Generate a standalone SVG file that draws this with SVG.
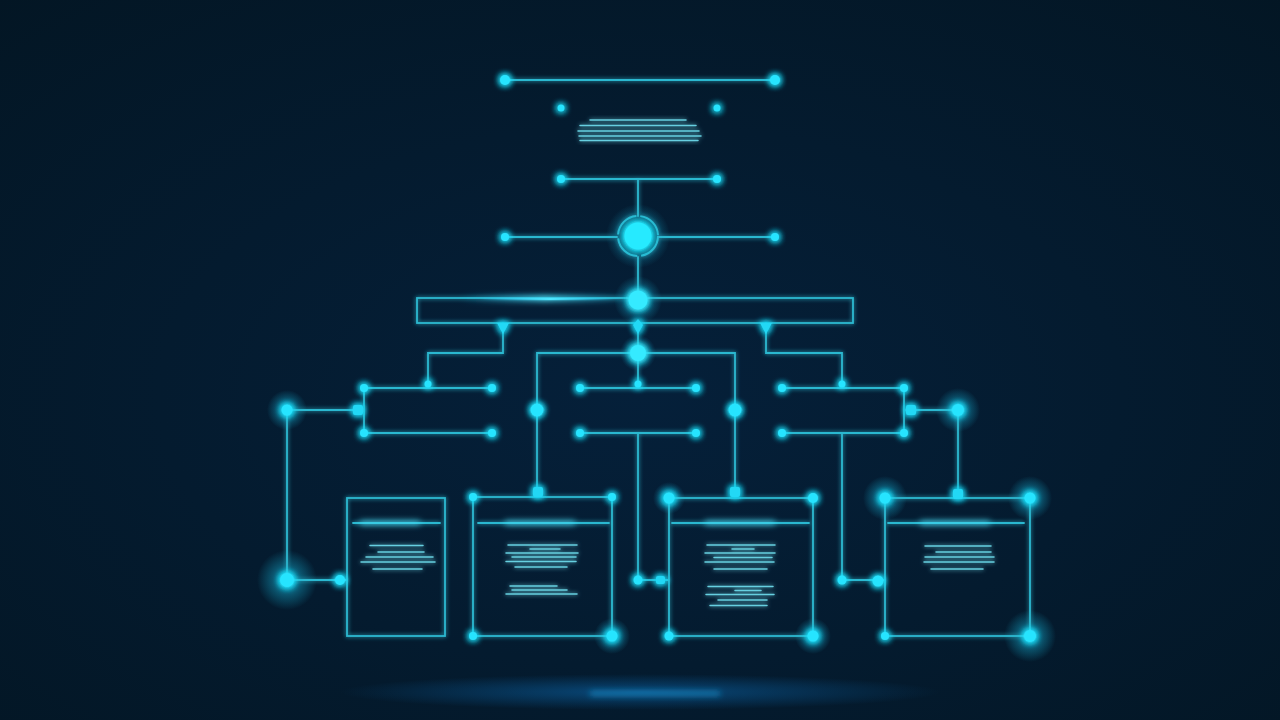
<svg xmlns="http://www.w3.org/2000/svg" width="1280" height="720" viewBox="0 0 1280 720">
<defs>
  <radialGradient id="bg" cx="50%" cy="55%" r="75%">
    <stop offset="0" stop-color="#05203a"/>
    <stop offset="1" stop-color="#031624"/>
  </radialGradient>
  <radialGradient id="floor" cx="50%" cy="50%" r="50%">
    <stop offset="0" stop-color="#0a5c9a" stop-opacity="0.7"/>
    <stop offset="1" stop-color="#0a5c9a" stop-opacity="0"/>
  </radialGradient>
  <radialGradient id="halo" cx="50%" cy="50%" r="50%">
    <stop offset="0" stop-color="#1ad8ff" stop-opacity="0.6"/>
    <stop offset="1" stop-color="#1ad8ff" stop-opacity="0"/>
  </radialGradient>
  <linearGradient id="streak" x1="0" x2="1">
    <stop offset="0" stop-color="#2ad0ff" stop-opacity="0"/>
    <stop offset="0.5" stop-color="#4fe6ff" stop-opacity="1"/>
    <stop offset="1" stop-color="#2ad0ff" stop-opacity="0"/>
  </linearGradient>
  <filter id="glow" x="-20%" y="-20%" width="140%" height="140%">
    <feGaussianBlur stdDeviation="2" result="b"/>
    <feMerge><feMergeNode in="b"/><feMergeNode in="SourceGraphic"/></feMerge>
  </filter>
  <filter id="dglow" x="-200%" y="-200%" width="500%" height="500%">
    <feGaussianBlur stdDeviation="3.5" result="b"/>
    <feMerge><feMergeNode in="b"/><feMergeNode in="b"/><feMergeNode in="b"/><feMergeNode in="SourceGraphic"/></feMerge>
  </filter>
  <filter id="soft" x="-50%" y="-300%" width="200%" height="700%">
    <feGaussianBlur stdDeviation="3"/>
  </filter>
</defs>
<style>
  .ln{fill:none;stroke:#2cb8d0;stroke-width:1.8;stroke-linecap:round}
  .tl{fill:none;stroke:#66cfe0;stroke-width:1.5;stroke-linecap:round}
  .dot{fill:#28e4ff}
  .mk{fill:#22d8f5}
</style>
<rect width="1280" height="720" fill="url(#bg)"/>
<ellipse cx="640" cy="692" rx="300" ry="18" fill="url(#floor)"/>
<rect x="590" y="692" width="130" height="3" fill="#1fa0e0" filter="url(#soft)"/>

<!-- halos -->
<g>
  <circle cx="287" cy="580" r="30" fill="url(#halo)"/>
  <circle cx="287" cy="410" r="20" fill="url(#halo)"/>
  <circle cx="958" cy="410" r="22" fill="url(#halo)"/>
  <circle cx="1030" cy="636" r="26" fill="url(#halo)"/>
  <circle cx="1030" cy="498" r="22" fill="url(#halo)"/>
  <circle cx="885" cy="498" r="22" fill="url(#halo)"/>
  <circle cx="638" cy="300" r="24" fill="url(#halo)"/>
  <circle cx="638" cy="236" r="32" fill="url(#halo)"/>
  <circle cx="638" cy="353" r="18" fill="url(#halo)"/>
  <circle cx="813" cy="636" r="18" fill="url(#halo)"/>
  <circle cx="612" cy="636" r="18" fill="url(#halo)"/>
  <circle cx="669" cy="498" r="16" fill="url(#halo)"/>
</g>

<g id="connectors" filter="url(#glow)">
  <line class="ln" x1="505" y1="80" x2="775" y2="80" stroke-width="2.4"/>
  <line class="ln" x1="561" y1="179" x2="717" y2="179"/>
  <line class="ln" x1="638" y1="179" x2="638" y2="216"/>
  <line class="ln" x1="505" y1="237" x2="617" y2="237"/>
  <line class="ln" x1="659" y1="237" x2="775" y2="237"/>
  <line class="ln" x1="638" y1="257" x2="638" y2="298"/>
  <rect class="ln" x="417" y="298" width="436" height="25"/>
  <polyline class="ln" points="503,323 503,353 428,353 428,388"/>
  <line class="ln" x1="638" y1="323" x2="638" y2="388"/>
  <polyline class="ln" points="537,497 537,353 735,353 735,497"/>
  <polyline class="ln" points="766,323 766,353 842,353 842,388"/>
  <polyline class="ln" points="492,388 364,388 364,433 492,433"/>
  <line class="ln" x1="580" y1="388" x2="696" y2="388"/>
  <line class="ln" x1="580" y1="433" x2="696" y2="433"/>
  <polyline class="ln" points="782,388 904,388 904,433 782,433"/>
  <polyline class="ln" points="358,410 287,410 287,580 347,580"/>
  <polyline class="ln" points="638,433 638,580 669,580"/>
  <polyline class="ln" points="842,433 842,580 885,580"/>
  <polyline class="ln" points="906,410 958,410 958,497"/>
</g>

<!-- glow streak on bus -->
<rect x="460" y="296" width="170" height="5" fill="url(#streak)" filter="url(#soft)"/>
<rect x="480" y="298" width="140" height="2.2" fill="url(#streak)"/>

<g id="title" filter="url(#glow)">
  <line class="tl" x1="590" y1="120" x2="686" y2="120"/>
  <line class="tl" x1="580" y1="125.5" x2="696" y2="125.5"/>
  <line class="tl" x1="578" y1="131" x2="699" y2="131"/>
  <line class="tl" x1="579" y1="136" x2="701" y2="136"/>
  <line class="tl" x1="580" y1="140.5" x2="698" y2="140.5"/>
</g>

<g id="hub">
  <circle cx="638" cy="236" r="20" fill="none" stroke="#2cb8d0" stroke-width="2" stroke-dasharray="28 4" filter="url(#glow)"/>
  <circle cx="638" cy="236" r="13.5" fill="#26eaff" filter="url(#dglow)"/>
  <circle cx="638" cy="300" r="9.5" fill="#34eaff" filter="url(#dglow)"/>
  <circle cx="638" cy="353" r="8" fill="#34eaff" filter="url(#dglow)"/>
</g>

<g id="box1" filter="url(#glow)">
  <rect class="ln" x="347" y="498" width="98" height="138"/>
  <line class="ln" x1="353" y1="523" x2="440" y2="523"/>
  <line class="tl" x1="370" y1="545.5" x2="423" y2="545.5"/>
  <line class="tl" x1="378" y1="552" x2="424" y2="552"/>
  <line class="tl" x1="366" y1="557" x2="433" y2="557"/>
  <line class="tl" x1="361" y1="562" x2="435" y2="562"/>
  <line class="tl" x1="373" y1="569" x2="422" y2="569"/>
</g>
<g id="box2" filter="url(#glow)">
  <rect class="ln" x="473" y="497" width="139" height="139"/>
  <line class="ln" x1="478" y1="523" x2="609" y2="523"/>
  <line class="tl" x1="508" y1="545" x2="577" y2="545"/>
  <line class="tl" x1="530" y1="549" x2="560" y2="549"/>
  <line class="tl" x1="506" y1="553" x2="578" y2="553"/>
  <line class="tl" x1="512" y1="557" x2="576" y2="557"/>
  <line class="tl" x1="506" y1="561.5" x2="576" y2="561.5"/>
  <line class="tl" x1="515" y1="567" x2="567" y2="567"/>
  <line class="tl" x1="510" y1="586" x2="557" y2="586"/>
  <line class="tl" x1="512" y1="590" x2="567" y2="590"/>
  <line class="tl" x1="506" y1="594" x2="577" y2="594"/>
</g>
<g id="box3" filter="url(#glow)">
  <rect class="ln" x="669" y="498" width="144" height="138"/>
  <line class="ln" x1="672" y1="523" x2="809" y2="523"/>
  <line class="tl" x1="707" y1="545" x2="775" y2="545"/>
  <line class="tl" x1="732" y1="549" x2="754" y2="549"/>
  <line class="tl" x1="705" y1="553" x2="775" y2="553"/>
  <line class="tl" x1="714" y1="557.5" x2="772" y2="557.5"/>
  <line class="tl" x1="705" y1="562" x2="774" y2="562"/>
  <line class="tl" x1="714" y1="569" x2="767" y2="569"/>
  <line class="tl" x1="708" y1="586.5" x2="773" y2="586.5"/>
  <line class="tl" x1="735" y1="590.5" x2="761" y2="590.5"/>
  <line class="tl" x1="706" y1="594.5" x2="774" y2="594.5"/>
  <line class="tl" x1="718" y1="600" x2="767" y2="600"/>
  <line class="tl" x1="710" y1="605.5" x2="767" y2="605.5"/>
</g>
<g id="box4" filter="url(#glow)">
  <rect class="ln" x="885" y="498" width="145" height="138"/>
  <line class="ln" x1="888" y1="523" x2="1024" y2="523"/>
  <line class="tl" x1="925" y1="546" x2="991" y2="546"/>
  <line class="tl" x1="936" y1="552" x2="991" y2="552"/>
  <line class="tl" x1="925" y1="557" x2="994" y2="557"/>
  <line class="tl" x1="924" y1="562" x2="994" y2="562"/>
  <line class="tl" x1="931" y1="569" x2="983" y2="569"/>
</g>

<g id="dashes" filter="url(#glow)">
  <line class="tl" x1="400" y1="419" x2="450" y2="419"/>
  <line class="tl" x1="612" y1="419" x2="661" y2="419"/>
  <line class="tl" x1="816" y1="419" x2="866" y2="419"/>
</g>

<g id="dots" filter="url(#dglow)">
  <circle class="dot" cx="505" cy="80" r="5"/>
  <circle class="dot" cx="775" cy="80" r="5"/>
  <circle class="dot" cx="561" cy="108" r="3.5"/>
  <circle class="dot" cx="717" cy="108" r="3.5"/>
  <circle class="dot" cx="561" cy="179" r="4"/>
  <circle class="dot" cx="717" cy="179" r="4"/>
  <circle class="dot" cx="505" cy="237" r="4"/>
  <circle class="dot" cx="775" cy="237" r="4"/>
  <path class="mk" d="M497,323 h12 l-6,11 z"/>
  <path class="mk" d="M760,323 h12 l-6,11 z"/>
  <path class="mk" d="M638,319 l5,6 l-5,9 l-5,-9 z"/>
  <circle class="dot" cx="428" cy="384" r="3.5"/>
  <circle class="dot" cx="638" cy="384" r="3.5"/>
  <circle class="dot" cx="842" cy="384" r="3.5"/>
  <circle class="dot" cx="364" cy="388" r="4"/>
  <circle class="dot" cx="492" cy="388" r="4"/>
  <circle class="dot" cx="364" cy="433" r="4"/>
  <circle class="dot" cx="492" cy="433" r="4"/>
  <circle class="dot" cx="580" cy="388" r="4"/>
  <circle class="dot" cx="696" cy="388" r="4"/>
  <circle class="dot" cx="580" cy="433" r="4"/>
  <circle class="dot" cx="696" cy="433" r="4"/>
  <circle class="dot" cx="782" cy="388" r="4"/>
  <circle class="dot" cx="904" cy="388" r="4"/>
  <circle class="dot" cx="782" cy="433" r="4"/>
  <circle class="dot" cx="904" cy="433" r="4"/>
  <circle class="dot" cx="537" cy="410" r="6.5"/>
  <circle class="dot" cx="735" cy="410" r="6.5"/>
  <circle class="dot" cx="287" cy="410" r="5.5"/>
  <rect class="mk" x="353" y="405" width="10" height="10" rx="2"/>
  <circle class="dot" cx="287" cy="580" r="7"/>
  <circle class="dot" cx="340" cy="580" r="5"/>
  <circle class="dot" cx="958" cy="410" r="6"/>
  <rect class="mk" x="906" y="405" width="10" height="10" rx="2"/>
  <rect class="mk" x="533" y="487" width="10" height="10" rx="2"/>
  <rect class="mk" x="730" y="487" width="10" height="10" rx="2"/>
  <rect class="mk" x="953" y="489" width="10" height="10" rx="2"/>
  <circle class="dot" cx="638" cy="580" r="4.5"/>
  <rect class="mk" x="656" y="576" width="9" height="8" rx="2"/>
  <circle class="dot" cx="842" cy="580" r="4.5"/>
  <circle class="dot" cx="878" cy="581" r="5.5"/>
  <circle class="dot" cx="473" cy="497" r="4"/>
  <circle class="dot" cx="612" cy="497" r="4"/>
  <circle class="dot" cx="473" cy="636" r="4"/>
  <circle class="dot" cx="612" cy="636" r="5.5"/>
  <circle class="dot" cx="669" cy="498" r="5.5"/>
  <circle class="dot" cx="813" cy="498" r="5"/>
  <circle class="dot" cx="669" cy="636" r="4.5"/>
  <circle class="dot" cx="813" cy="636" r="5.5"/>
  <circle class="dot" cx="885" cy="498" r="5.5"/>
  <circle class="dot" cx="1030" cy="498" r="5.5"/>
  <circle class="dot" cx="885" cy="636" r="4"/>
  <circle class="dot" cx="1030" cy="636" r="6"/>
</g>

<g filter="url(#soft)">
  <rect x="360" y="521" width="60" height="3.5" fill="#4fe6ff"/>
  <rect x="505" y="521" width="70" height="3.5" fill="#4fe6ff"/>
  <rect x="705" y="521" width="70" height="3.5" fill="#4fe6ff"/>
  <rect x="920" y="521" width="70" height="3.5" fill="#4fe6ff"/>
</g>
</svg>
